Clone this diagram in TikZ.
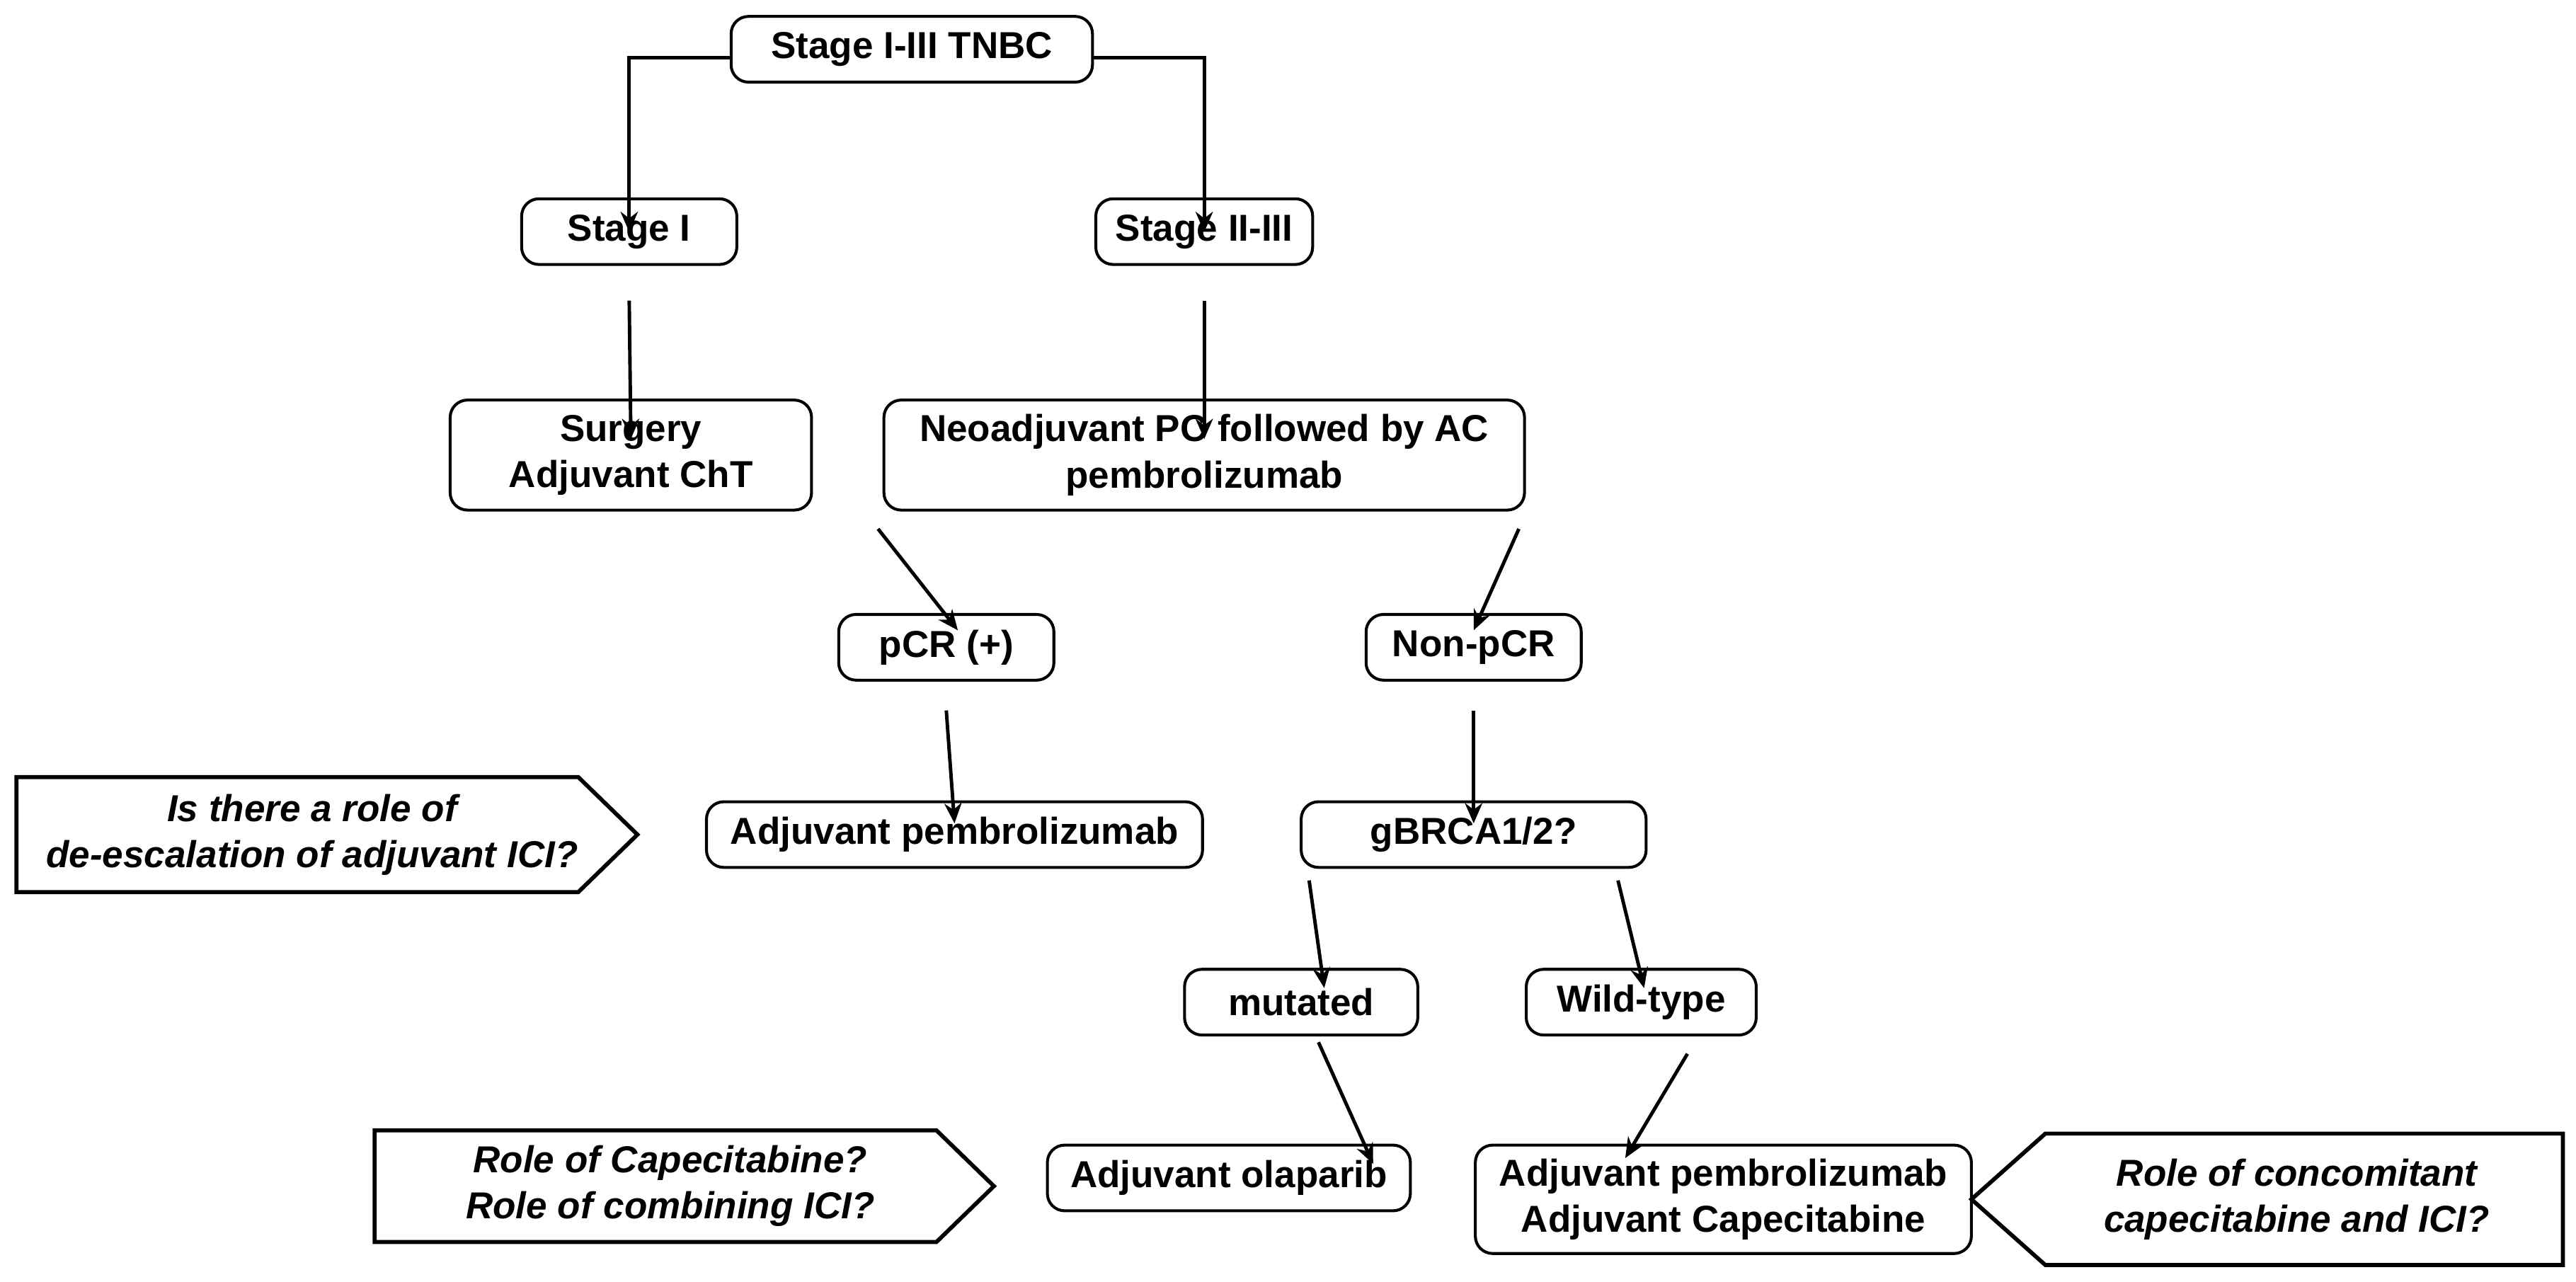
\documentclass[tikz,border=0pt]{standalone}
\usepackage{fontspec}
\setmainfont{Liberation Sans}
\usetikzlibrary{arrows.meta, positioning}
\tikzset{
    box/.style={
        rectangle, rounded corners=6pt, draw=black, line width=1pt, fill=white,
        minimum height=0.8cm, align=center, font=\fontsize{13}{16}\selectfont\bfseries
    },
    arrow/.style={
        line width=1.2pt, -{Stealth[length=7pt, width=6pt]}
    },
    callout/.style={
        draw=black, line width=1.4pt
    },
    note/.style={
        align=center, font=\fontsize{13}{16}\selectfont\bfseries\itshape
    }
}
\begin{document}
\begin{tikzpicture}[x=0.02cm, y=-0.02cm]
    \useasboundingbox (0,0) rectangle (1568,780);

    % Boxes
    \node[box, minimum width=4.4cm] (tnbc) at (555,30) {Stage I-III TNBC};
    \node[box, minimum width=2.62cm] (st1) at (383,141) {Stage I};
    \node[box, minimum width=2.64cm] (st23) at (733,141) {Stage II-III};
    \node[box, minimum width=4.4cm, minimum height=1.34cm] (surgery) at (384,277) {Surgery\\Adjuvant ChT};
    \node[box, minimum width=7.8cm, minimum height=1.34cm] (neo) at (733,277) {Neoadjuvant PC followed by AC\\pembrolizumab};
    \node[box, minimum width=2.62cm] (pcr) at (576,394) {pCR (+)};
    \node[box, minimum width=2.62cm] (npcr) at (897,394) {Non-pCR};
    \node[box, minimum width=6.04cm] (adjp) at (581,508) {Adjuvant pembrolizumab};
    \node[box, minimum width=4.2cm] (brca) at (897,508) {gBRCA1/2?};
    \node[box, minimum width=2.84cm] (mut) at (792,610) {mutated};
    \node[box, minimum width=2.8cm] (wild) at (999,610) {Wild-type};
    \node[box, minimum width=4.42cm] (olap) at (748,717) {Adjuvant olaparib};
    \node[box, minimum width=6.04cm, minimum height=1.32cm] (pcap) at (1049,730) {Adjuvant pembrolizumab\\Adjuvant Capecitabine};

    % Relationships
    \draw[arrow] (tnbc.west |- 0,35) -| ([yshift=-12pt]st1.north);
    \draw[arrow] (tnbc.east |- 0,35) -| ([yshift=-12pt]st23.north);
    \draw[arrow] ([yshift=-12pt]st1.south) -- ([yshift=-14pt]surgery.north);
    \draw[arrow] ([yshift=-12pt]st23.south) -- ([yshift=-14pt]neo.north);
    \draw[arrow] ([xshift=-113,yshift=-6pt]neo.south) -- ([xshift=4,yshift=-6pt]pcr.north);
    \draw[arrow] ([xshift=109,yshift=-6pt]neo.south) -- ([yshift=-6pt]npcr.north);
    \draw[arrow] ([yshift=-10pt]pcr.south) -- ([yshift=-8pt]adjp.north);
    \draw[arrow] ([yshift=-10pt]npcr.south) -- ([yshift=-8pt]brca.north);
    \draw[arrow] ([xshift=-57,yshift=-4pt]brca.south) -- ([xshift=8,yshift=-7pt]mut.north);
    \draw[arrow] ([xshift=50,yshift=-4pt]brca.south) -- ([xshift=1,yshift=-7pt]wild.north);
    \draw[arrow] ([xshift=6,yshift=-2pt]mut.south) -- ([xshift=50,yshift=-7pt]olap.north);
    \draw[arrow] ([xshift=16,yshift=-6pt]wild.south) -- ([xshift=-34,yshift=-5pt]pcap.north);

    % Questions
    \draw[callout] (10,473) -- (352,473) -- (388,508) -- (352,543) -- (10,543) -- cycle;
    \node[note] (q1) at (190,508) {Is there a role of\\de-escalation of adjuvant ICI?};
    \draw[callout] (228,688) -- (570,688) -- (605,722) -- (570,756) -- (228,756) -- cycle;
    \node[note] (q2) at (408,722) {Role of Capecitabine?\\Role of combining ICI?};
    \draw[callout] (1200,730) -- (1245,690) -- (1560,690) -- (1560,770) -- (1245,770) -- cycle;
    \node[note] (q3) at (1398,730) {Role of concomitant\\capecitabine and ICI?};
\end{tikzpicture}
\end{document}
